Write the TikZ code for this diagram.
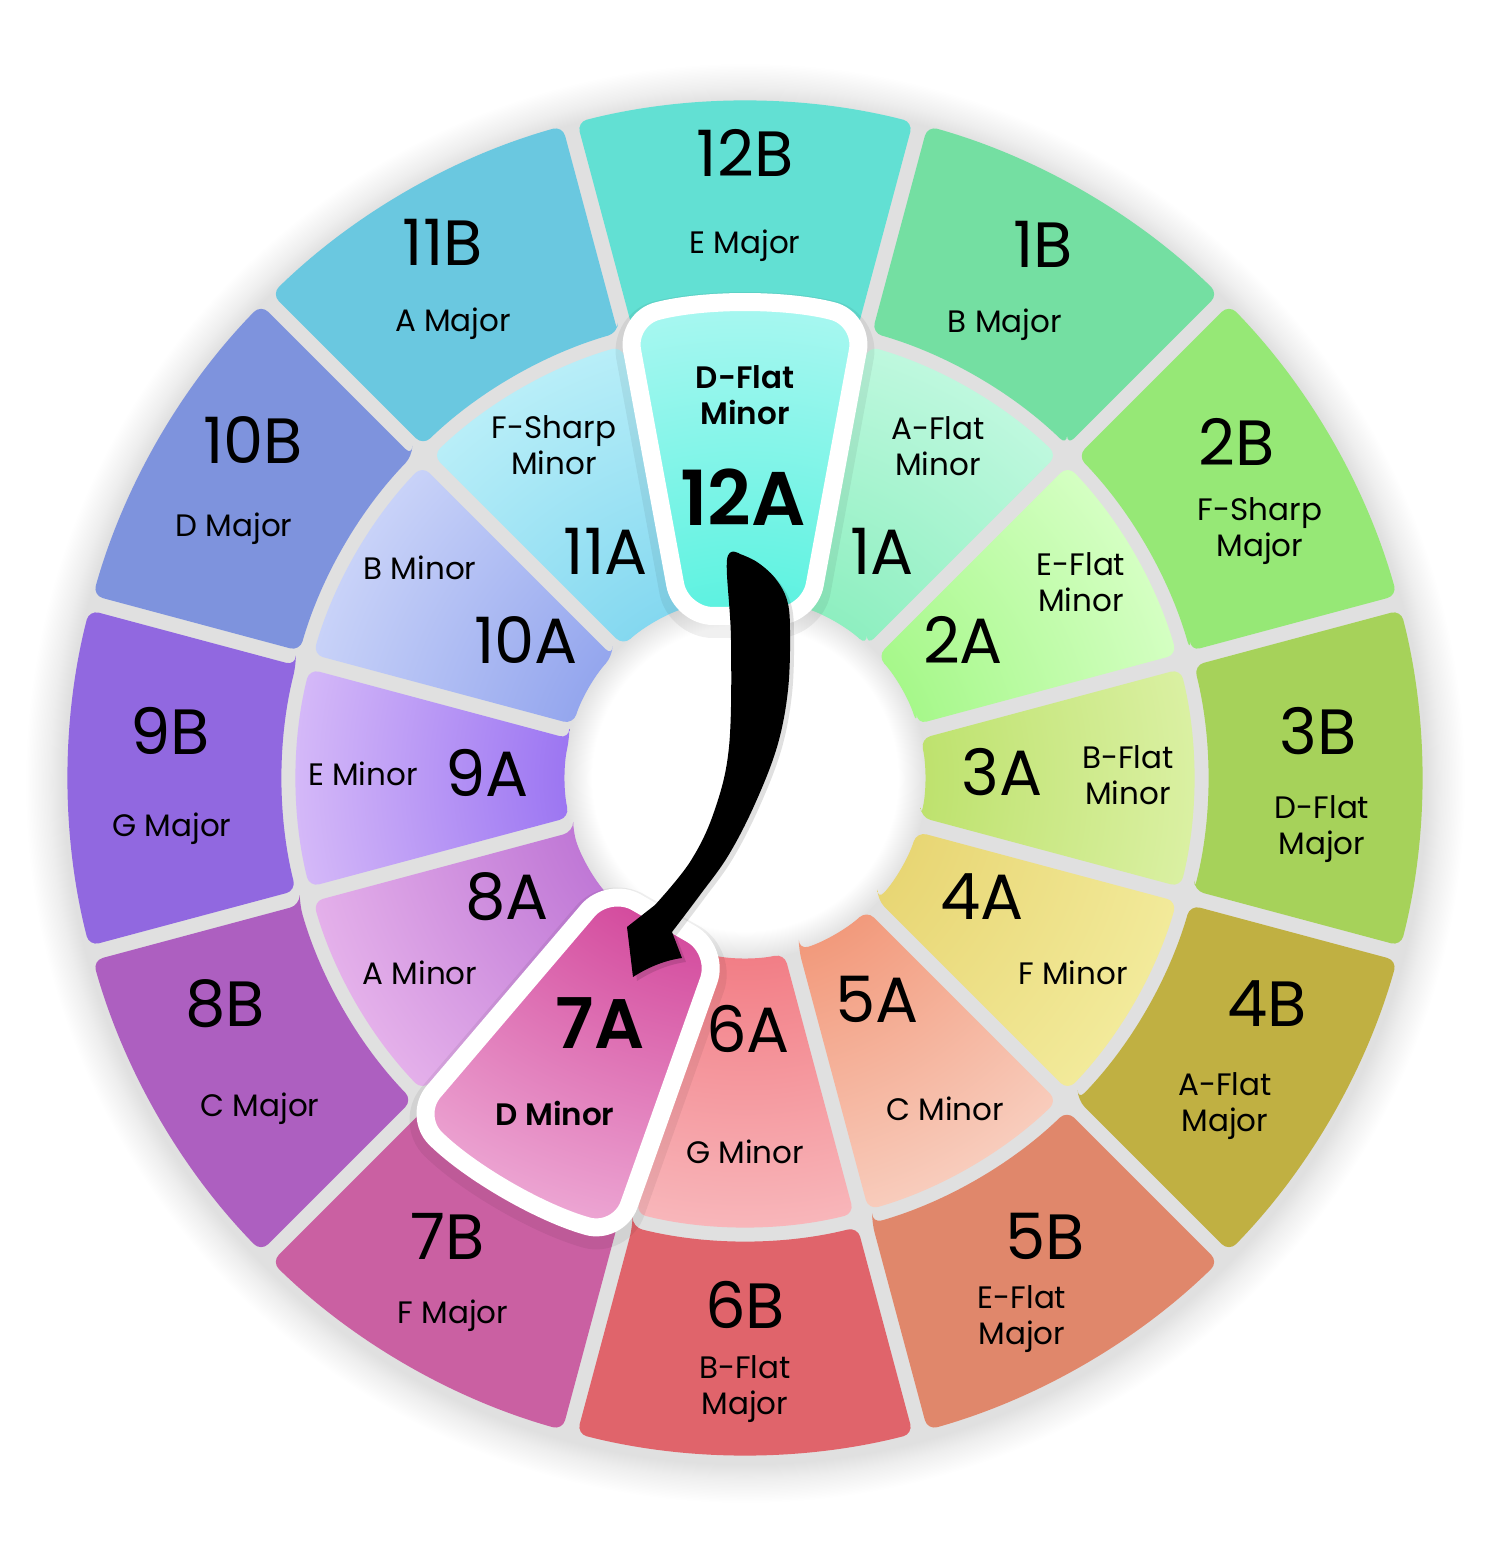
\documentclass[tikz,border=0pt]{standalone}
\usepackage{fontspec}
\setmainfont{Poppins}[BoldFont={Poppins SemiBold}]

\definecolor{wheelgray}{HTML}{E0E0E0}
\definecolor{rimgray}{HTML}{EEEEEE}
\definecolor{c12B}{HTML}{62E0D3}
\definecolor{c1B}{HTML}{74DFA2}
\definecolor{c2B}{HTML}{96E876}
\definecolor{c3B}{HTML}{A6D25A}
\definecolor{c4B}{HTML}{C0B042}
\definecolor{c5B}{HTML}{E0876B}
\definecolor{c6B}{HTML}{E0646B}
\definecolor{c7B}{HTML}{CA60A2}
\definecolor{c8B}{HTML}{AD5FC0}
\definecolor{c9B}{HTML}{9168E0}
\definecolor{c10B}{HTML}{7E93DD}
\definecolor{c11B}{HTML}{6AC8E0}
\colorlet{ringin}{white}
\colorlet{ringout}{white}

% ring fades: 25bp is the rim of the shaded circle (radius 500)
\pgfdeclareradialshading[ringin,ringout]{ringfade}{\pgfpoint{0bp}{0bp}}{color(0bp)=(ringin); color(9bp)=(ringin); color(22.45bp)=(ringout); color(50bp)=(ringout)}
\pgfdeclareradialshading[ringin,ringout]{popfade}{\pgfpoint{0bp}{0bp}}{color(0bp)=(ringin); color(8.4bp)=(ringin); color(23.4bp)=(ringout); color(50bp)=(ringout)}
\pgfdeclareradialshading{holefade}{\pgfpoint{0bp}{0bp}}{color(0bp)=(white); color(21bp)=(white); color(25bp)=(wheelgray); color(50bp)=(wheelgray)}
\pgfdeclareradialshading{rimfade}{\pgfpoint{0bp}{0bp}}{color(0bp)=(wheelgray); color(23.65bp)=(wheelgray); color(24.15bp)=(rimgray); color(25bp)=(white); color(50bp)=(white)}

% outer (major) segment: #1 centre angle, #2 colour
\newcommand{\majorseg}[2]{%
  \pgfmathsetmacro{\angA}{#1-15+0.93}\pgfmathsetmacro{\angB}{#1+15-0.93}%
  \pgfmathsetmacro{\angC}{#1-15+0.64}\pgfmathsetmacro{\angD}{#1+15-0.64}%
  \fill[#2, rounded corners=5pt] (\angA:463) -- (\angC:677)
    arc[start angle=\angC, end angle=\angD, radius=677] -- (\angB:463)
    arc[start angle=\angB, end angle=\angA, radius=463] -- cycle;}

% inner (minor) segment: #1 centre angle, #2 inner hex, #3 outer hex
\newcommand{\minorseg}[3]{%
  \pgfmathsetmacro{\angA}{#1-15+2.39}\pgfmathsetmacro{\angB}{#1+15-2.39}%
  \pgfmathsetmacro{\angC}{#1-15+0.96}\pgfmathsetmacro{\angD}{#1+15-0.96}%
  \definecolor{ringin}{HTML}{#2}\definecolor{ringout}{HTML}{#3}%
  \begin{scope}
    \clip[rounded corners=5pt] (\angA:180) -- (\angC:449)
      arc[start angle=\angC, end angle=\angD, radius=449] -- (\angB:180)
      arc[start angle=\angB, end angle=\angA, radius=180] -- cycle;
    \shade[shading=ringfade] (0,0) circle (500);
  \end{scope}}

% the picked-out minor key
\newcommand{\poppath}{(-64,162) -- (104.5:474) arc[start angle=104.5, end angle=75.5, radius=474] -- (64,162) -- cycle}
\newcommand{\popseg}[3]{%
  \definecolor{ringin}{HTML}{#2}\definecolor{ringout}{HTML}{#3}%
  \begin{scope}[yshift=-3pt, rotate=#1]
    \fill[black, opacity=.12, rounded corners=16pt] \poppath;
    \draw[black, opacity=.06, line width=16pt, rounded corners=16pt] \poppath;
  \end{scope}
  \begin{scope}[rotate=#1]
    \begin{scope}
      \clip[rounded corners=16pt] \poppath;
      \shade[shading=popfade] (0,0) circle (500);
    \end{scope}
    \draw[white, line width=9pt, rounded corners=16pt] \poppath;
  \end{scope}}

\tikzset{
  keynum/.style={font=\fontsize{32}{32}\selectfont, anchor=base, inner sep=0pt},
  keybig/.style={font=\bfseries\fontsize{38}{38}\selectfont, anchor=base, inner sep=0pt},
  keyname/.style={font=\fontsize{15.5}{18}\selectfont, anchor=base, inner sep=0pt},
  keypair/.style={font=\fontsize{15.5}{18}\selectfont, align=center, inner sep=0pt},
  keybold/.style={font=\bfseries\fontsize{15.5}{18}\selectfont, align=center, inner sep=0pt}
}

\begin{document}
\begin{tikzpicture}[x=0.5pt,y=0.5pt]
\useasboundingbox (-745,-773) rectangle (742,778);

% wheel base and centre hole
\shade[shading=rimfade] (0,-5) circle (720);
\shade[shading=holefade] (0,0) circle (182);

% major keys
\majorseg{90}{c12B}
\majorseg{60}{c1B}
\majorseg{30}{c2B}
\majorseg{0}{c3B}
\majorseg{-30}{c4B}
\majorseg{-60}{c5B}
\majorseg{-90}{c6B}
\majorseg{-120}{c7B}
\majorseg{-150}{c8B}
\majorseg{180}{c9B}
\majorseg{150}{c10B}
\majorseg{120}{c11B}

% minor keys
\minorseg{60}{8EEFC0}{BEF8DE}
\minorseg{30}{A6F88A}{D4FFC2}
\minorseg{0}{BEE26E}{DAF0A2}
\minorseg{-30}{E8D674}{F2EA9A}
\minorseg{-60}{F29A7C}{F8CCBC}
\minorseg{-90}{F27E86}{F8B6BA}
\minorseg{-150}{C078D6}{E4B0EA}
\minorseg{180}{9C76F2}{D4B8F8}
\minorseg{150}{94A6EE}{C8D2F8}
\minorseg{120}{84D8F0}{B8EEF8}
\popseg{-210}{D44C9E}{ECA4D2}
\popseg{0}{5CF2E0}{A6F7F0}

% major labels
\node[keynum] (num12B) at (0,601) {12B};
\node[keyname] (key12B) at (0,524) {E Major};
\node[keynum] (num1B) at (298,510) {1B};
\node[keyname] (key1B) at (260,445) {B Major};
\node[keynum] (num2B) at (492,312) {2B};
\node[keypair] (key2B) at (515,247) {F-Sharp\\Major};
\node[keynum] (num3B) at (573,23) {3B};
\node[keypair] (key3B) at (577,-51) {D-Flat\\Major};
\node[keynum] (num4B) at (522,-248) {4B};
\node[keypair] (key4B) at (480,-328) {A-Flat\\Major};
\node[keynum] (num5B) at (300,-481) {5B};
\node[keypair] (key5B) at (277,-541) {E-Flat\\Major};
\node[keynum] (num6B) at (0,-550) {6B};
\node[keypair] (key6B) at (0,-611) {B-Flat\\Major};
\node[keynum] (num7B) at (-297,-481) {7B};
\node[keyname] (key7B) at (-292,-545) {F Major};
\node[keynum] (num8B) at (-520,-248) {8B};
\node[keyname] (key8B) at (-485,-338) {C Major};
\node[keynum] (num9B) at (-575,23) {9B};
\node[keyname] (key9B) at (-573,-59) {G Major};
\node[keynum] (num10B) at (-492,314) {10B};
\node[keyname] (key10B) at (-511,241) {D Major};
\node[keynum] (num11B) at (-302,512) {11B};
\node[keyname] (key11B) at (-292,446) {A Major};

% minor labels
\node[keybig] (num12A) at (-2,252) {12A};
\node[keybold] (key12A) at (0,383) {D-Flat\\Minor};
\node[keynum] (num1A) at (137,203) {1A};
\node[keypair] (key1A) at (193,332) {A-Flat\\Minor};
\node[keynum] (num2A) at (218,114) {2A};
\node[keypair] (key2A) at (336,196) {E-Flat\\Minor};
\node[keynum] (num3A) at (257,-18) {3A};
\node[keypair] (key3A) at (383,3) {B-Flat\\Minor};
\node[keynum] (num4A) at (237,-141) {4A};
\node[keyname] (key4A) at (328,-206) {F Minor};
\node[keynum] (num5A) at (132,-244) {5A};
\node[keyname] (key5A) at (200,-342) {C Minor};
\node[keynum] (num6A) at (3,-274) {6A};
\node[keyname] (key6A) at (0,-385) {G Minor};
\node[keybig, font=\bfseries\fontsize{35}{35}\selectfont] (num7A) at (-145,-270) {7A};
\node[keybold, anchor=base] (key7A) at (-190,-347) {D Minor};
\node[keynum] (num8A) at (-238,-141) {8A};
\node[keyname] (key8A) at (-325,-206) {A Minor};
\node[keynum] (num9A) at (-258,-19) {9A};
\node[keyname] (key9A) at (-382,-8) {E Minor};
\node[keynum] (num10A) at (-219,114) {10A};
\node[keyname] (key10A) at (-325,198) {B Minor};
\node[keynum] (num11A) at (-139,203) {11A};
\node[keypair] (key11A) at (-191,333) {F-Sharp\\Minor};

% the move from 12A to 7A
\fill[black, opacity=.12, xshift=2pt, yshift=-2pt]
  plot[smooth, tension=.6] coordinates {(-5,224) (-18,218) (-14,138) (-16,31) (-31,-34) (-55,-84) (-90,-127)}
  -- (-118,-149) -- (-112,-199) .. controls (-95,-188) and (-78,-182) .. (-63,-180) -- (-73,-154)
  -- plot[smooth, tension=.6] coordinates {(-73,-154) (-45,-117) (-17,-78) (9,-28) (32,31) (43,88) (45,148) (42,178) (30,200) (12,216) (-5,224)} -- cycle;
\fill[black]
  plot[smooth, tension=.6] coordinates {(-5,224) (-18,218) (-14,138) (-16,31) (-31,-34) (-55,-84) (-90,-127)}
  -- (-118,-149) -- (-112,-199) .. controls (-95,-188) and (-78,-182) .. (-63,-180) -- (-73,-154)
  -- plot[smooth, tension=.6] coordinates {(-73,-154) (-45,-117) (-17,-78) (9,-28) (32,31) (43,88) (45,148) (42,178) (30,200) (12,216) (-5,224)} -- cycle;
\end{tikzpicture}
\end{document}
